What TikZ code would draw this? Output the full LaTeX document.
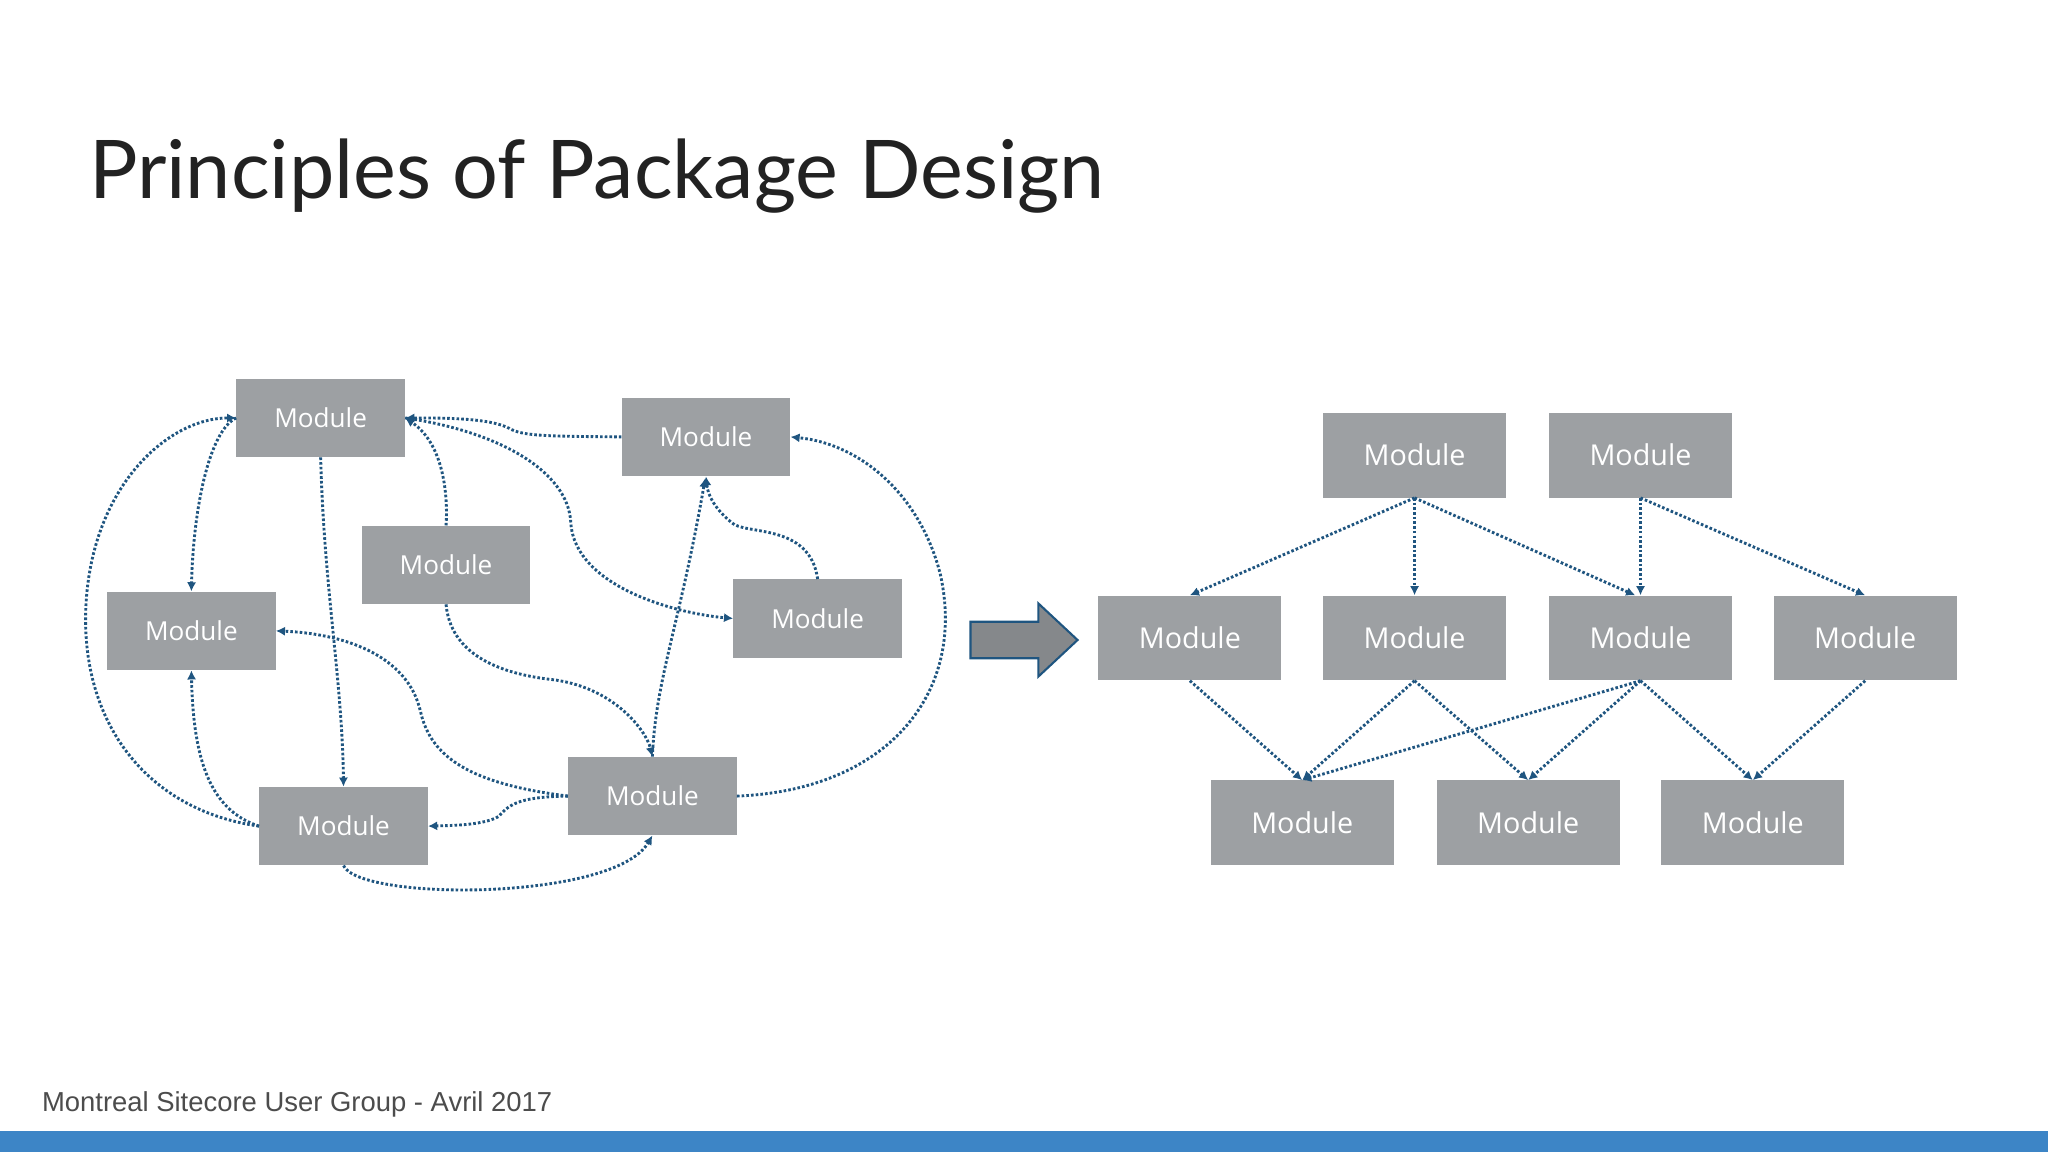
\documentclass[tikz,border=0pt]{standalone}
\usepackage{fontspec}
\setmainfont{Open Sans}
\newfontfamily\titlefont{Lato}
\newfontfamily\footfont{Liberation Sans}
\usetikzlibrary{arrows.meta}
\definecolor{boxgray}{HTML}{9DA0A3}
\definecolor{linkblue}{HTML}{1F5580}
\definecolor{barblue}{HTML}{3D85C6}
\definecolor{titlecol}{HTML}{222222}
\tikzset{
  mod/.style={fill=boxgray, text=white, minimum width=129pt, minimum height=60pt, inner sep=0pt, font=\fontsize{20}{22}\selectfont},
  modr/.style={mod, minimum width=140pt, minimum height=65pt, font=\fontsize{22}{24}\selectfont},
  link/.style={draw=linkblue, line width=2.2pt, dash pattern=on 2pt off 1.6pt, -{Latex[length=7pt,width=7pt]}},
}
\begin{document}
\begin{tikzpicture}[x=1pt,y=-1pt]
\useasboundingbox (0,0) rectangle (1568,882);
\fill[white] (0,0) rectangle (1568,882);
\fill[barblue] (0,866) rectangle (1568,882);
\node[anchor=base west, inner sep=0pt, text=titlecol, font=\titlefont\fontsize{62}{70}\selectfont] (title) at (68,152) {Principles of Package Design};
\node[anchor=base west, inner sep=0pt, text=black!70, font=\footfont\fontsize{21}{24}\selectfont] (foot) at (32,851) {Montreal Sitecore User Group - Avril 2017};

% left graph
\node[mod] (A) at (245.5,320) {Module};
\node[mod] (B) at (540.5,334.5) {Module};
\node[mod] (C) at (341.5,432.5) {Module};
\node[mod] (D) at (146.5,483) {Module};
\node[mod] (E) at (626,473.5) {Module};
\node[mod] (F) at (263,632.5) {Module};
\node[mod] (G) at (499.5,609.5) {Module};

\draw[link] (B.west) .. controls (420,334) and (400,334) .. (390,328) .. controls (375,320) and (340,320) .. (A.east);
\draw[link] (A.east) .. controls (380,330) and (435,360) .. (437,400) .. controls (440,450) and (520,470) .. (E.west);
\draw[link] (C.north) .. controls (343,380) and (340,340) .. (A.east);
\draw[link] (F.west) .. controls (110,620) and (60,550) .. (66,460) .. controls (72,370) and (130,320) .. (A.west);
\draw[link] (A.west) .. controls (160,330) and (148,390) .. (D.north);
\draw[link] (A.south) .. controls (248,450) and (262,520) .. (F.north);
\draw[link] (C.south) .. controls (345,500) and (380,515) .. (420,520) .. controls (470,525) and (495,560) .. (G.north);
\draw[link] (G.north) .. controls (502,520) and (520,480) .. (540,366);
\draw[link] (E.north) .. controls (620,400) and (570,410) .. (560,400) .. controls (548,390) and (542,380) .. (B.south);
\draw[link] (G.west) .. controls (360,600) and (330,580) .. (322,545) .. controls (312,500) and (260,485) .. (D.east);
\draw[link] (G.west) .. controls (400,610) and (390,615) .. (382,625) .. controls (370,632) and (345,632) .. (F.east);
\draw[link] (F.west) .. controls (160,620) and (148,580) .. (D.south);
\draw[link] (F.south) .. controls (275,690) and (470,690) .. (G.south);
\draw[link] (G.east) .. controls (680,605) and (740,530) .. (720,440) .. controls (705,380) and (660,340) .. (B.east);

% big arrow
\draw[draw=linkblue, fill=boxgray!85!black, line width=1.6pt] (743,476) -- (795,476) -- (795,462) -- (825,490) -- (795,518) -- (795,504) -- (743,504) -- cycle;

% right graph
\node[modr] (T1) at (1083,348.5) {Module};
\node[modr] (T2) at (1256,348.5) {Module};
\node[modr] (M1) at (911,488.5) {Module};
\node[modr] (M2) at (1083,488.5) {Module};
\node[modr] (M3) at (1256,488.5) {Module};
\node[modr] (M4) at (1428,488.5) {Module};
\node[modr] (N1) at (997,630) {Module};
\node[modr] (N2) at (1170,630) {Module};
\node[modr] (N3) at (1342,630) {Module};

\draw[link] (T1.south) -- (M1.north);
\draw[link] (T1.south) -- (M2.north);
\draw[link] (T1.south) -- ([xshift=-4pt]M3.north);
\draw[link] (T2.south) -- (M3.north);
\draw[link] (T2.south) -- (M4.north);
\draw[link] (M1.south) -- (N1.north);
\draw[link] (M2.south) -- (N1.north);
\draw[link] (M2.south) -- (N2.north);
\draw[link] (M3.south) -- (N1.north);
\draw[link] (M3.south) -- (N2.north);
\draw[link] (M3.south) -- (N3.north);
\draw[link] (M4.south) -- (N3.north);
\end{tikzpicture}
\end{document}
